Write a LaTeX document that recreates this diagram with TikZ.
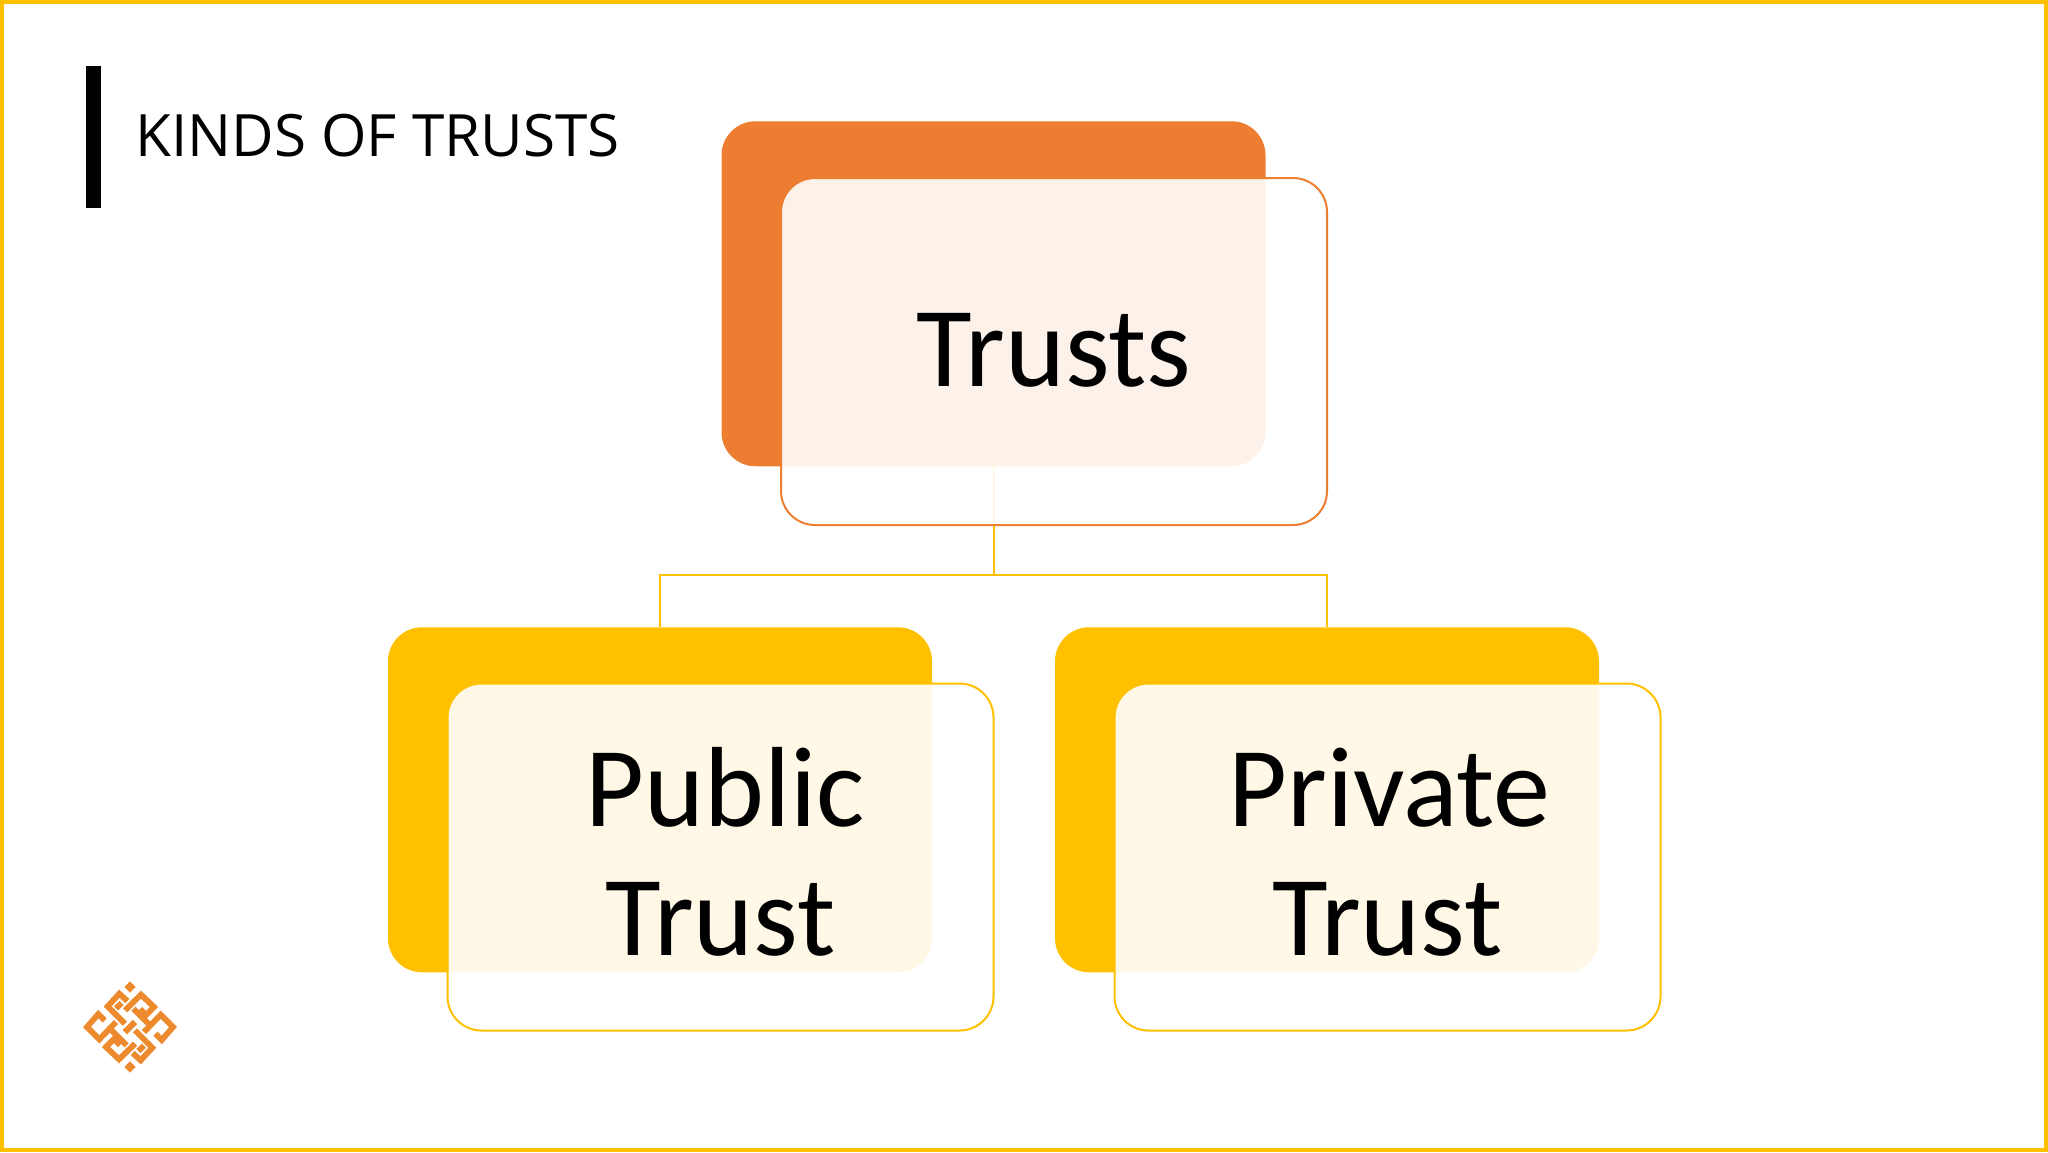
\documentclass[tikz,border=0pt]{standalone}
\usepackage{fontspec}
\setmainfont{Carlito}
\newfontfamily\titlefont{Open Sans}
\definecolor{gold}{HTML}{FFC000}
\definecolor{tangerine}{HTML}{ED7D31}
\definecolor{logoorange}{HTML}{EE8A2E}
\tikzset{
  backbox/.style={rectangle,rounded corners=17pt,minimum width=272pt,minimum height=172.5pt,inner sep=0pt,outer sep=0pt,draw=none,fill=#1},
  frontbox/.style={rectangle,rounded corners=17pt,minimum width=273pt,minimum height=173.5pt,inner sep=0pt,outer sep=0pt,draw=#1,line width=1pt,fill=white,fill opacity=.9,draw opacity=1},
  boxlabel/.style={inner sep=0pt,align=center,font=\fontsize{57}{64.3}\selectfont,text=black},
  link/.style={draw=gold,line width=1pt},
  knot/.style={draw=logoorange,line width=2.9pt,line join=miter,line cap=butt},
  knotdot/.style={fill=logoorange,draw=none}
}
\begin{document}
\begin{tikzpicture}[x=.5pt,y=-.5pt]
\useasboundingbox (0,0) rectangle (2048,1152);
\fill[white] (0,0) rectangle (2048,1152);
\draw[gold,line width=2pt] (2,2) rectangle (2046,1150);
% title
\fill[black] (86,66) rectangle (100.6,208);
\node[anchor=base west,inner sep=0pt,font=\titlefont\fontsize{29.2}{36}\selectfont] (title) at (135,156) {KINDS OF TRUSTS};
% boxes behind
\node[backbox=tangerine] (tb) at (993.5,293.75) {};
\node[backbox=gold] (pb) at (660,799.75) {};
\node[backbox=gold] (vb) at (1327,799.75) {};
\coordinate (bus) at (993.5,575.3);
\draw[link] (tb.south) -- (bus);
\draw[link] (bus) -| (pb.north);
\draw[link] (bus) -| (vb.north);
\node[frontbox=tangerine] (tf) at (1054,351.5) {};
\node[frontbox=gold] (pf) at (720.5,857) {};
\node[frontbox=gold] (vf) at (1387.5,857) {};
\node[boxlabel] (tl) at (1054,350) {Trusts};
\node[boxlabel] (pl) at (720.5,852) {\hspace{4.6pt}Public\\Trust};
\node[boxlabel] (vl) at (1387.5,852) {\hspace{2pt}Private\\Trust};
% logo
\begin{scope}[shift={(80,977)},x=.1667pt,y=-.1667pt]
\foreach \r in {0,180}{
\begin{scope}[rotate around={\r:(150,150)}]
\fill[knotdot] (150,13)--(167,30)--(150,47)--(133,30)--cycle;
\draw[knot] (135,165)--(165,135);
\draw[knot] (74,130)--(55,111)--(21,150)--(58,187)--(108,135);
\draw[knot] (142,72)--(118,50)--(83,88)--(135,140);
\draw[knot] (108,94)--(125,78);
\draw[knot] (135,100)--(183,53)--(222,90)--(198,114)--(180,96);
\draw[knot] (160,95)--(205,140);
\end{scope}}
\end{scope}
\end{tikzpicture}
\end{document}
